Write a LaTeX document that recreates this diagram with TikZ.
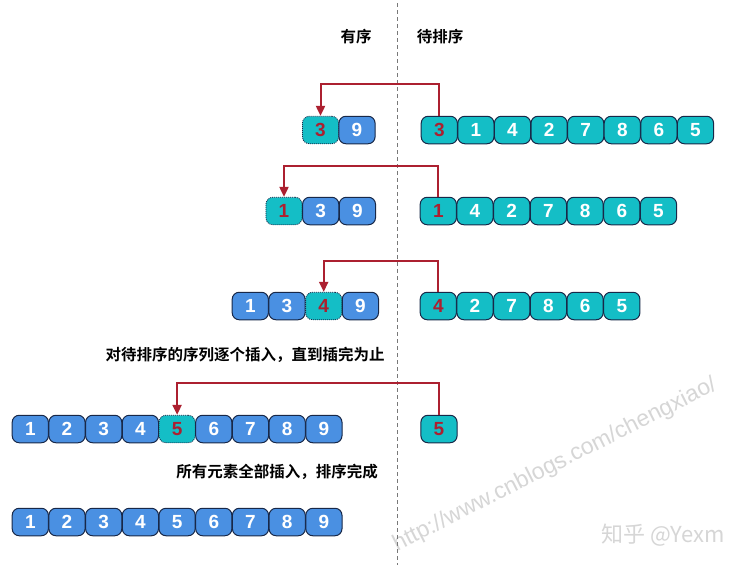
\documentclass[tikz,border=0pt]{standalone}
\usepackage{fontspec}
\setmainfont{Liberation Sans}
\newfontfamily\cjk{Noto Sans CJK SC}[BoldFont={Noto Sans CJK SC Bold}]
\usetikzlibrary{arrows.meta}
\definecolor{cblue}{RGB}{74,144,226}
\definecolor{cteal}{RGB}{20,190,198}
\definecolor{cborder}{RGB}{24,40,72}
\definecolor{cred}{RGB}{172,32,48}
\definecolor{cline}{RGB}{120,120,120}
\definecolor{wm}{RGB}{214,214,214}
\begin{document}
\begin{tikzpicture}[x=1pt,y=-1pt,
  cell/.style={rounded corners=7pt, minimum width=36.2pt, minimum height=27.5pt, inner sep=0pt,
    font=\bfseries\fontsize{19}{19}\selectfont, text=white, draw=cborder, line width=1pt},
  bluecell/.style={cell, fill=cblue},
  tealcell/.style={cell, fill=cteal},
  pick/.style={cell, fill=cteal, text=cred},
  hole/.style={cell, fill=cteal, text=cred, densely dotted, line width=0.8pt},
  arr/.style={draw=cred, line width=2pt, -{Triangle[length=10pt,width=9pt]}},
  head/.style={font=\cjk\bfseries\fontsize{15.5}{15.5}\selectfont, text=black, inner sep=0pt}]
\useasboundingbox (0,0) rectangle (747,565);
\fill[white] (0,0) rectangle (747,565);
% watermark
\node[rotate=26.8, text=wm, font=\fontsize{23}{23}\selectfont, inner sep=0pt] (wm1) at (555,465) {http://www.cnblogs.com/chengxiao/};
\node[text=wm, font=\cjk\fontsize{22}{22}\selectfont, inner sep=0pt] (wm2) at (663,535) {知乎 @Yexm};
% divider
\draw[cline, line width=0.9pt, dash pattern=on 4pt off 3pt] (397,3) -- (397,565);
% headings
\node[head] (h1) at (356,37) {有序};
\node[head] (h2) at (440,37) {待排序};
\node[head] (h3) at (245,355) {对待排序的序列逐个插入，直到插完为止};
\node[head] (h4) at (277,472) {所有元素全部插入，排序完成};
% row 1
\node[hole] (a0) at (320.5,130) {3};
\node[bluecell] (a1) at (357,130) {9};
\node[pick] (r1-0) at (439.3,130) {3};
\foreach \v [count=\i] in {1,4,2,7,8,6,5}
  \node[tealcell] (r1-\i) at (439.3+36.6*\i,130) {\v};
\draw[arr] (r1-0.north) -- ++(0,-32) -| (a0.north);
% row 2
\node[hole] (b0) at (284,211) {1};
\node[bluecell] (b1) at (320.7,211) {3};
\node[bluecell] (b2) at (357.4,211) {9};
\node[pick] (r2-0) at (438.3,211) {1};
\foreach \v [count=\i] in {4,2,7,8,6,5}
  \node[tealcell] (r2-\i) at (438.3+36.7*\i,211) {\v};
\draw[arr] (r2-0.north) -- ++(0,-31) -| (b0.north);
% row 3
\node[bluecell] (c0) at (250.3,306) {1};
\node[bluecell] (c1) at (287,306) {3};
\node[hole] (c2) at (323.7,306) {4};
\node[bluecell] (c3) at (360.4,306) {9};
\node[pick] (r3-0) at (438.3,306) {4};
\foreach \v [count=\i] in {2,7,8,6,5}
  \node[tealcell] (r3-\i) at (438.3+36.7*\i,306) {\v};
\draw[arr] (r3-0.north) -- ++(0,-31) -| (c2.north);
% row 4
\foreach \v [count=\i from 0] in {1,2,3,4}
  \node[bluecell] (d\i) at (30.3+36.7*\i,429) {\v};
\node[hole] (d4) at (177.1,429) {5};
\foreach \v [count=\i from 5] in {6,7,8,9}
  \node[bluecell] (d\i) at (30.3+36.7*\i,429) {\v};
\node[pick] (r4-0) at (439,429) {5};
\draw[arr] (r4-0.north) -- ++(0,-32) -| (d4.north);
% row 5
\foreach \v [count=\i from 0] in {1,2,3,4,5,6,7,8,9}
  \node[bluecell] (e\i) at (30.3+36.7*\i,522) {\v};
\end{tikzpicture}
\end{document}
